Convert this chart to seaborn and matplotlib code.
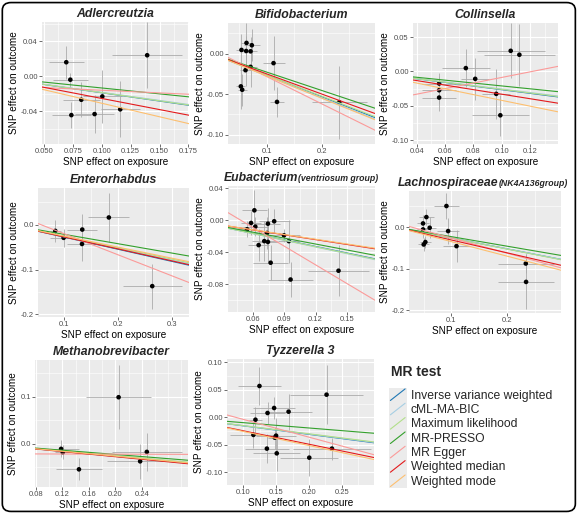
import numpy as np
import pandas as pd
import matplotlib
matplotlib.use("Agg")
import matplotlib.pyplot as plt
import seaborn as sns
from matplotlib.lines import Line2D
from matplotlib.patches import Rectangle, FancyBboxPatch
from matplotlib.legend_handler import HandlerBase
from matplotlib.ticker import FixedLocator, AutoMinorLocator

# MR methods, legend order
methods = ["Inverse variance weighted", "cML-MA-BIC", "Maximum likelihood", "MR-PRESSO",
           "MR Egger", "Weighted median", "Weighted mode"]
method_colors = ["#1F78B4", "#A6CEE3", "#B2DF8A", "#33A02C", "#FB9A99", "#E31A1C", "#FDBF6F"]

# Adlercreutzia
adl_x = [0.0693, 0.0728, 0.0823, 0.0737, 0.0938, 0.1005, 0.1160, 0.1393]
adl_y = [0.016, -0.004, -0.027, -0.0446, -0.0434, -0.0232, -0.038, 0.024]
adl_xse = [0.015, 0.015, 0.016, 0.017, 0.017, 0.017, 0.017, 0.030]
adl_yse = [0.019, 0.008, 0.020, 0.015, 0.022, 0.030, 0.032, 0.038]
adl_slope = [-0.19, -0.185, -0.188, -0.135, -0.061, -0.255, -0.31]
adl_egger_int = -0.010

# Bifidobacterium
bif_x = [0.0545, 0.0636, 0.0630, 0.0710, 0.0733, 0.0618, 0.0710, 0.0533, 0.0558, 0.1127, 0.1190, 0.2320]
bif_y = [0.0046, 0.0133, 0.0033, 0.0029, 0.0104, -0.0204, -0.0163, -0.0404, -0.0446, -0.0117, -0.0596, -0.0600]
bif_xse = [0.010, 0.010, 0.012, 0.012, 0.015, 0.010, 0.012, 0.008, 0.008, 0.020, 0.013, 0.050]
bif_yse = [0.020, 0.025, 0.018, 0.018, 0.020, 0.020, 0.025, 0.028, 0.020, 0.033, 0.019, 0.045]
bif_slope = [-0.266, -0.272, -0.262, -0.227, -0.337, -0.249, -0.275]
bif_egger_int = 0.0055

# Collinsella
col_x = [0.0558, 0.0558, 0.0558, 0.0746, 0.0812, 0.0960, 0.0989, 0.1062, 0.1123]
col_y = [-0.0175, -0.0272, -0.0379, 0.0049, -0.0107, -0.0325, -0.0636, 0.030, 0.0243]
col_xse = [0.012, 0.012, 0.012, 0.017, 0.010, 0.010, 0.020, 0.024, 0.025]
col_yse = [0.015, 0.020, 0.020, 0.028, 0.030, 0.036, 0.030, 0.040, 0.045]
col_slope = [-0.265, -0.255, -0.26, -0.21, 0.406, -0.33, -0.42]
col_egger_int = -0.0492

# Enterorhabdus
ent_x = [0.0846, 0.1000, 0.1345, 0.1340, 0.1837, 0.2640]
ent_y = [-0.0135, -0.029, -0.0105, -0.0427, 0.0165, -0.137]
ent_xse = [0.010, 0.026, 0.028, 0.028, 0.038, 0.055]
ent_yse = [0.024, 0.020, 0.035, 0.038, 0.054, 0.050]
ent_slope = [-0.272, -0.262, -0.255, -0.21, -0.472, -0.268, -0.248]
ent_egger_int = 0.0278

# Eubacterium (ventriosum group)
eub_x = [0.0613, 0.0581, 0.0622, 0.0543, 0.0654, 0.0708, 0.0743, 0.0743, 0.0734, 0.0803,
         0.0769, 0.0897, 0.0944, 0.0960, 0.1420]
eub_y = [0.0125, -0.0033, -0.0079, -0.0112, -0.031, -0.026, -0.027, -0.0042, -0.0158, -0.0012,
         -0.053, -0.0188, -0.026, -0.074, -0.063]
eub_xse = [0.012, 0.010, 0.012, 0.008, 0.010, 0.012, 0.010, 0.012, 0.012, 0.015,
           0.017, 0.015, 0.010, 0.0215, 0.029]
eub_yse = [0.025, 0.015, 0.012, 0.010, 0.020, 0.025, 0.025, 0.020, 0.020, 0.015,
           0.022, 0.008, 0.027, 0.022, 0.032]
eub_slope = [-0.272, -0.278, -0.275, -0.247, -0.777, -0.201, -0.197]
eub_egger_int = 0.0376

# Lachnospiraceae (NK4A136group)
lac_x = [0.0910, 0.0551, 0.0491, 0.0491, 0.0610, 0.0533, 0.0503, 0.0940, 0.1090, 0.2330, 0.2335]
lac_y = [0.0506, 0.024, 0.0088, -0.0056, -0.0016, -0.036, -0.0418, -0.0096, -0.0458, -0.0875, -0.1317]
lac_xse = [0.022, 0.013, 0.010, 0.010, 0.012, 0.010, 0.010, 0.020, 0.024, 0.050, 0.050]
lac_yse = [0.032, 0.020, 0.020, 0.020, 0.025, 0.015, 0.015, 0.032, 0.038, 0.024, 0.066]
lac_slope = [-0.262, -0.262, -0.265, -0.23, -0.366, -0.31, -0.35]
lac_egger_int = 0.0104

# Methanobrevibacter
met_x = [0.1180, 0.1205, 0.1450, 0.2050, 0.2376, 0.2477]
met_y = [-0.0106, -0.018, -0.054, 0.099, -0.037, -0.017]
met_xse = [0.027, 0.012, 0.035, 0.049, 0.050, 0.053]
met_yse = [0.018, 0.015, 0.023, 0.068, 0.037, 0.040]
met_slope = [-0.132, -0.128, -0.125, -0.112, -0.004, -0.136, -0.13]
met_egger_int = -0.021

# Tyzzerella 3
tyz_x = [0.1247, 0.1186, 0.1370, 0.1470, 0.1690, 0.2268, 0.1155, 0.1500, 0.1480, 0.1360, 0.1510, 0.2005, 0.2350]
tyz_y = [0.0571, -0.0043, 0.0079, 0.017, 0.0103, 0.0413, -0.032, -0.0334, -0.037, -0.057, -0.0656, -0.0735, -0.057]
tyz_xse = [0.033, 0.010, 0.027, 0.032, 0.036, 0.055, 0.035, 0.030, 0.010, 0.033, 0.036, 0.044, 0.059]
tyz_yse = [0.035, 0.024, 0.020, 0.020, 0.033, 0.054, 0.023, 0.032, 0.020, 0.026, 0.032, 0.034, 0.020]
tyz_slope = [-0.155, -0.152, -0.15, -0.097, -0.324, -0.245, -0.257]
tyz_egger_int = 0.0287

# panel settings: title, suffix, data, axes box (px: left, top, right, bottom), limits, ticks
panels = [
    ("Adlercreutzia", "", adl_x, adl_y, adl_xse, adl_yse, adl_slope, adl_egger_int,
     (42, 22, 189, 144), (0.0483, 0.1755), (-0.0777, 0.0621),
     [0.05, 0.075, 0.10, 0.125, 0.15, 0.175], ["0.050", "0.075", "0.100", "0.125", "0.150", "0.175"],
     [-0.04, 0.0, 0.04], ["-0.04", "0.00", "0.04"]),
    ("Bifidobacterium", "", bif_x, bif_y, bif_xse, bif_yse, bif_slope, bif_egger_int,
     (228, 23, 375, 143.5), (0.030, 0.297), (-0.111, 0.0379),
     [0.1, 0.2], ["0.1", "0.2"], [-0.10, -0.05, 0.0], ["-0.10", "-0.05", "0.00"]),
    ("Collinsella", "", col_x, col_y, col_xse, col_yse, col_slope, col_egger_int,
     (413, 23, 558, 144), (0.0374, 0.1395), (-0.1053, 0.0704),
     [0.04, 0.06, 0.08, 0.10, 0.12], ["0.04", "0.06", "0.08", "0.10", "0.12"],
     [-0.10, -0.05, 0.0, 0.05], ["-0.10", "-0.05", "0.00", "0.05"]),
    ("Enterorhabdus", "", ent_x, ent_y, ent_xse, ent_yse, ent_slope, ent_egger_int,
     (38, 188, 189, 317), (0.0526, 0.332), (-0.206, 0.0824),
     [0.1, 0.2, 0.3], ["0.1", "0.2", "0.3"], [-0.2, -0.1, 0.0], ["-0.2", "-0.1", "0.0"]),
    ("Eubacterium", "(ventriosum group)", eub_x, eub_y, eub_xse, eub_yse, eub_slope, eub_egger_int,
     (228, 186, 375, 312), (0.036, 0.177), (-0.1146, 0.0429),
     [0.06, 0.09, 0.12, 0.15], ["0.06", "0.09", "0.12", "0.15"],
     [-0.08, -0.04, 0.0, 0.04], ["-0.08", "-0.04", "0.00", "0.04"]),
    ("Lachnospiraceae", "(NK4A136group)", lac_x, lac_y, lac_xse, lac_yse, lac_slope, lac_egger_int,
     (409, 191, 561, 313), (0.024, 0.296), (-0.2064, 0.0867),
     [0.1, 0.2], ["0.1", "0.2"], [-0.2, -0.1, 0.0], ["-0.2", "-0.1", "0.0"]),
    ("Methanobrevibacter", "", met_x, met_y, met_xse, met_yse, met_slope, met_egger_int,
     (35, 360, 188, 487), (0.0785, 0.31), (-0.0915, 0.178),
     [0.08, 0.12, 0.16, 0.20, 0.24], ["0.08", "0.12", "0.16", "0.20", "0.24"],
     [0.0, 0.1], ["0.0", "0.1"]),
    ("Tyzzerella 3", "", tyz_x, tyz_y, tyz_xse, tyz_yse, tyz_slope, tyz_egger_int,
     (227, 359, 374, 485), (0.0753, 0.299), (-0.1233, 0.1063),
     [0.10, 0.15, 0.20, 0.25], ["0.10", "0.15", "0.20", "0.25"],
     [-0.10, -0.05, 0.0, 0.05, 0.10], ["-0.10", "-0.05", "0.00", "0.05", "0.10"]),
]
title_split = {"Eubacterium": 0.478, "Lachnospiraceae": 0.587}

sns.set_theme(style="darkgrid", rc={"axes.facecolor": "#EBEBEB", "grid.color": "white"})
plt.rcParams['font.family'] = ['Liberation Sans', 'DejaVu Sans']
plt.rcParams['axes.unicode_minus'] = False

W, H = 580, 514
fig = plt.figure(figsize=(W / 100, H / 100), dpi=100)
fig.patch.set_facecolor("white")

for (name, suffix, xs, ys, xse, yse, slopes, egger_int, box, xlim, ylim,
     xt, xtl, yt, ytl) in panels:
    l, t, r, b = box
    ax = fig.add_axes([l / W, 1 - b / H, (r - l) / W, (b - t) / H])
    df = pd.DataFrame({"x": xs, "y": ys, "xse": xse, "yse": yse})

    ax.errorbar(df["x"], df["y"], yerr=df["yse"], fmt="none", ecolor="#ABABAB", elinewidth=0.6, zorder=2)
    ax.errorbar(df["x"], df["y"], xerr=df["xse"], fmt="none", ecolor="#ABABAB", elinewidth=0.6, zorder=2)
    sns.scatterplot(data=df, x="x", y="y", ax=ax, color="black", s=11, edgecolor="none", zorder=3)

    for m, col, s in zip(methods, method_colors, slopes):
        icpt = egger_int if m == "MR Egger" else 0.0
        ax.axline((0.0, icpt), slope=s, color=col, lw=0.8, zorder=4)

    ax.set_xlim(*xlim)
    ax.set_ylim(*ylim)
    ax.xaxis.set_major_locator(FixedLocator(xt))
    ax.yaxis.set_major_locator(FixedLocator(yt))
    ax.set_xticklabels(xtl)
    ax.set_yticklabels(ytl)
    ax.xaxis.set_minor_locator(AutoMinorLocator(2))
    ax.yaxis.set_minor_locator(AutoMinorLocator(2))
    ax.grid(which="major", color="white", lw=0.8)
    ax.grid(which="minor", color="white", lw=0.4)
    ax.tick_params(which="major", bottom=True, left=True, length=2, width=0.5, color="#333333",
                   labelsize=5.5, pad=1, labelcolor="#4D4D4D")
    ax.tick_params(which="minor", bottom=False, left=False, length=0)
    for sp in ax.spines.values():
        sp.set_visible(False)
    ax.set_xlabel("SNP effect on exposure", fontsize=7.2, labelpad=1.5, color="black")
    ax.set_ylabel("SNP effect on outcome", fontsize=7.2, labelpad=1.5, color="black")

    if suffix:
        sp_ = title_split[name]
        ax.annotate(name, xy=(sp_, 1), xycoords="axes fraction", xytext=(0, 3.5),
                    textcoords="offset points", ha="right", va="baseline",
                    fontsize=8.8, fontweight="bold", fontstyle="italic")
        ax.annotate(suffix, xy=(sp_, 1), xycoords="axes fraction", xytext=(0, 3.5),
                    textcoords="offset points", ha="left", va="baseline",
                    fontsize=6.3, fontweight="bold", fontstyle="italic")
    else:
        ax.annotate(name, xy=(0.5, 1), xycoords="axes fraction", xytext=(0, 3.5),
                    textcoords="offset points", ha="center", va="baseline",
                    fontsize=8.8, fontweight="bold", fontstyle="italic")


# legend keys in ggplot abline style
class DiagHandler(HandlerBase):
    def create_artists(self, legend, orig_handle, xdescent, ydescent, width, height, fontsize, trans):
        bg = Rectangle((-xdescent, -ydescent), width, height, facecolor="#EBEBEB",
                       edgecolor="none", transform=trans)
        ln = Line2D([-xdescent + 1, -xdescent + width - 1], [-ydescent + 1, -ydescent + height - 1],
                    color=orig_handle.get_color(), lw=0.8, transform=trans)
        return [bg, ln]


fig.text(391 / W, 1 - 371.7 / H, "MR test", fontsize=10, fontweight="bold", ha="left", va="center")
handles = [Line2D([], [], color=c) for c in method_colors]
fig.legend(handles, methods, loc="upper left", bbox_to_anchor=(389 / W, 1 - 387.5 / H),
           frameon=False, handler_map={Line2D: DiagHandler()}, handlelength=1.45, handleheight=1.45,
           labelspacing=0, fontsize=8.7, borderaxespad=0, borderpad=0, handletextpad=0.35)

# rounded frame round the figure
frame = FancyBboxPatch((0.004, 0.005), 0.988, 0.99, boxstyle="round,pad=0,rounding_size=0.015",
                       transform=fig.transFigure, facecolor="none", edgecolor="black", lw=1.2)
fig.patches.append(frame)

fig.savefig("out.png", dpi=100)
